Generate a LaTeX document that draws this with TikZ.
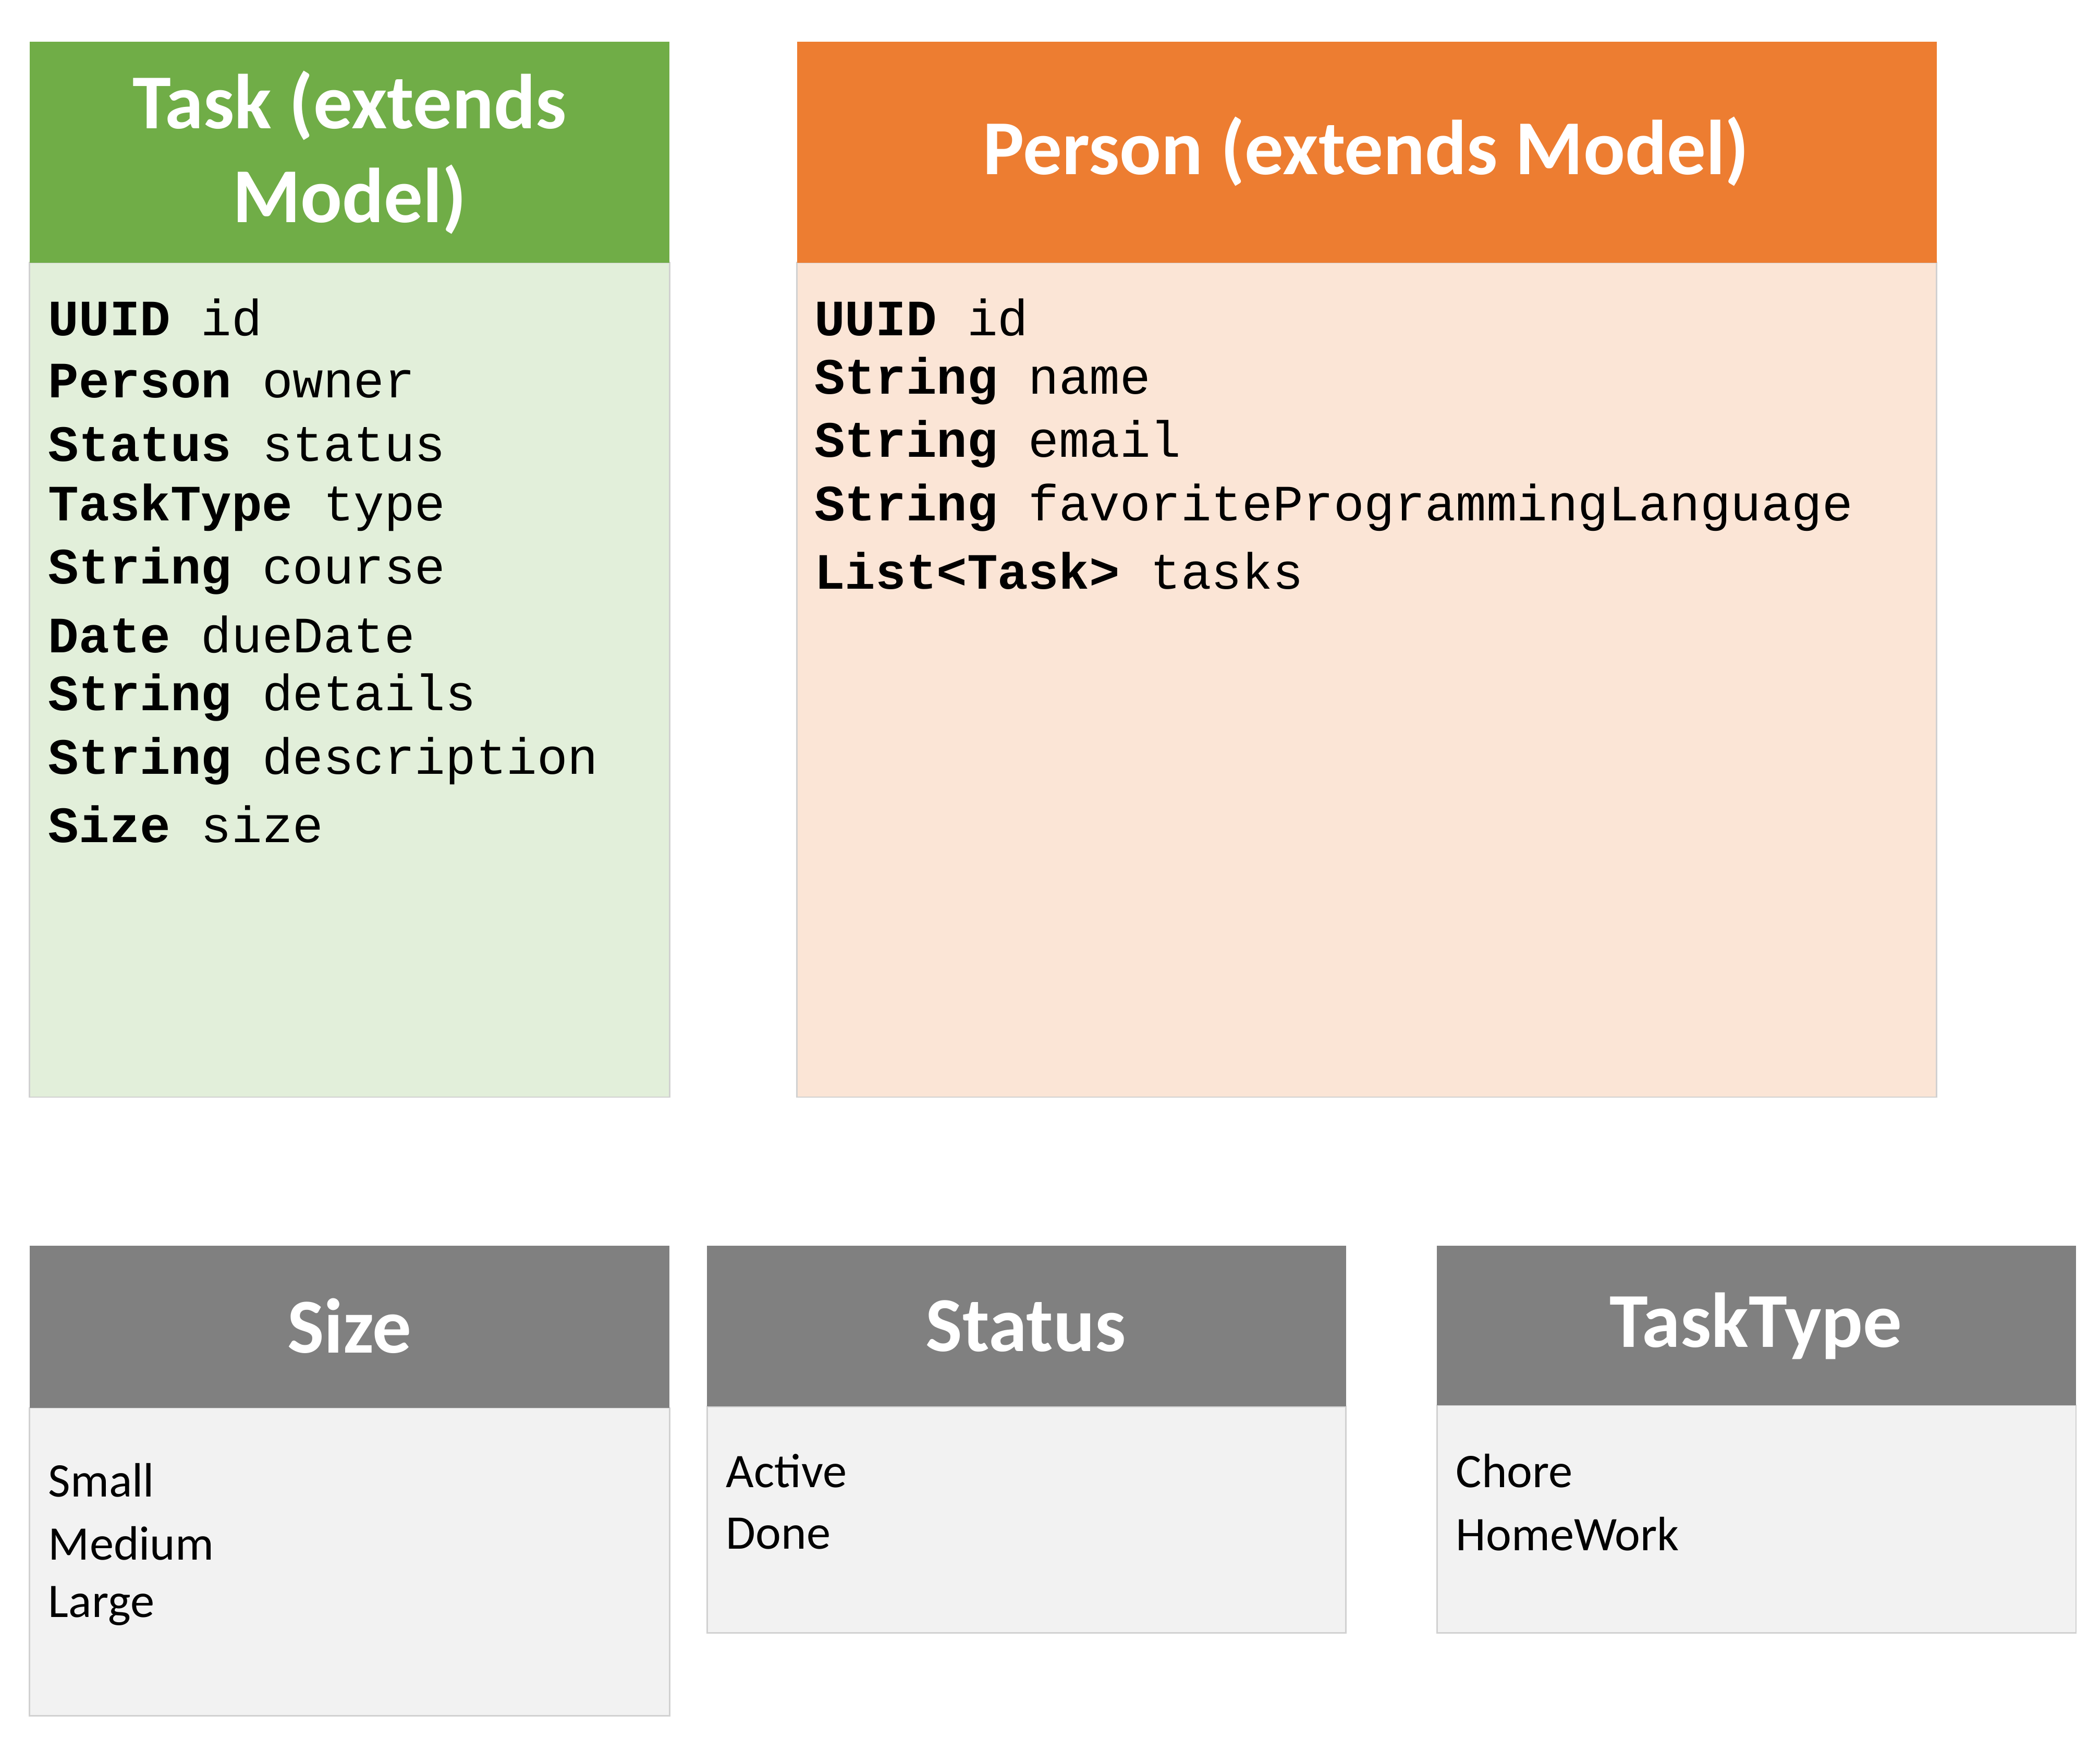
\documentclass[tikz,border=0pt]{standalone}
\usepackage{fontspec}
\setmainfont{Carlito}
\setmonofont{Liberation Mono}
\begin{document}
\begin{tikzpicture}[x=1pt,y=-1pt,
  hdr/.style={font=\fontsize{58}{70}\selectfont\bfseries, text=white, align=center},
  fld/.style={anchor=west, inner sep=0pt, font=\fontsize{38}{40}\selectfont\ttfamily},
  enm/.style={anchor=west, inner sep=0pt, font=\fontsize{36}{40}\selectfont},
  bord/.style={draw=black!18, line width=1pt}]
\definecolor{tg}{HTML}{70AD47}\definecolor{tgl}{HTML}{E2EFDA}
\definecolor{po}{HTML}{ED7D31}\definecolor{pol}{HTML}{FBE5D6}
\definecolor{gr}{HTML}{808080}\definecolor{grl}{HTML}{F2F2F2}
\useasboundingbox[fill=white] (0,0) rectangle (1568,1298);
% Task
\fill[tgl,bord] (22,196) rectangle (500,819);
\fill[tg] (22,31) rectangle (500,196);
\node[hdr] (taskh) at (261,114) {Task (extends\\Model)};
\foreach \i/\t/\n in {0/UUID/id,1/Person/owner,2/Status/status,3/TaskType/type,4/String/course,5/Date/dueDate,6/String/details,7/String/description,8/Size/size}
  \node[fld] (tf\i) at (36,237+47.3*\i) {\textbf{\t} \n};
% Person
\fill[pol,bord] (595,196) rectangle (1446,819);
\fill[po] (595,31) rectangle (1446,196);
\node[hdr] (personh) at (1020,113) {Person (extends Model)};
\foreach \i/\t/\n in {0/UUID/id,1/String/name,2/String/email,3/String/favoriteProgrammingLanguage,4/List<Task>/tasks}
  \node[fld] (pf\i) at (608,237+47.3*\i) {\textbf{\t} \n};
% Size
\fill[grl,bord] (22,1051) rectangle (500,1281);
\fill[gr] (22,930) rectangle (500,1051);
\node[hdr] (sizeh) at (261,990) {Size};
\foreach \i/\t in {0/Small,1/Medium,2/Large}
  \node[enm] (se\i) at (36,1105+47*\i) {\t};
% Status
\fill[grl,bord] (528,1050) rectangle (1005,1219);
\fill[gr] (528,930) rectangle (1005,1050);
\node[hdr] (statush) at (766,990) {Status};
\foreach \i/\t in {0/Active,1/Done}
  \node[enm] (st\i) at (542,1098+47*\i) {\t};
% TaskType
\fill[grl,bord] (1073,1049) rectangle (1550,1219);
\fill[gr] (1073,930) rectangle (1550,1049);
\node[hdr] (typeh) at (1311,990) {TaskType};
\foreach \i/\t in {0/Chore,1/HomeWork}
  \node[enm] (tt\i) at (1087,1098+47*\i) {\t};
\end{tikzpicture}
\end{document}
